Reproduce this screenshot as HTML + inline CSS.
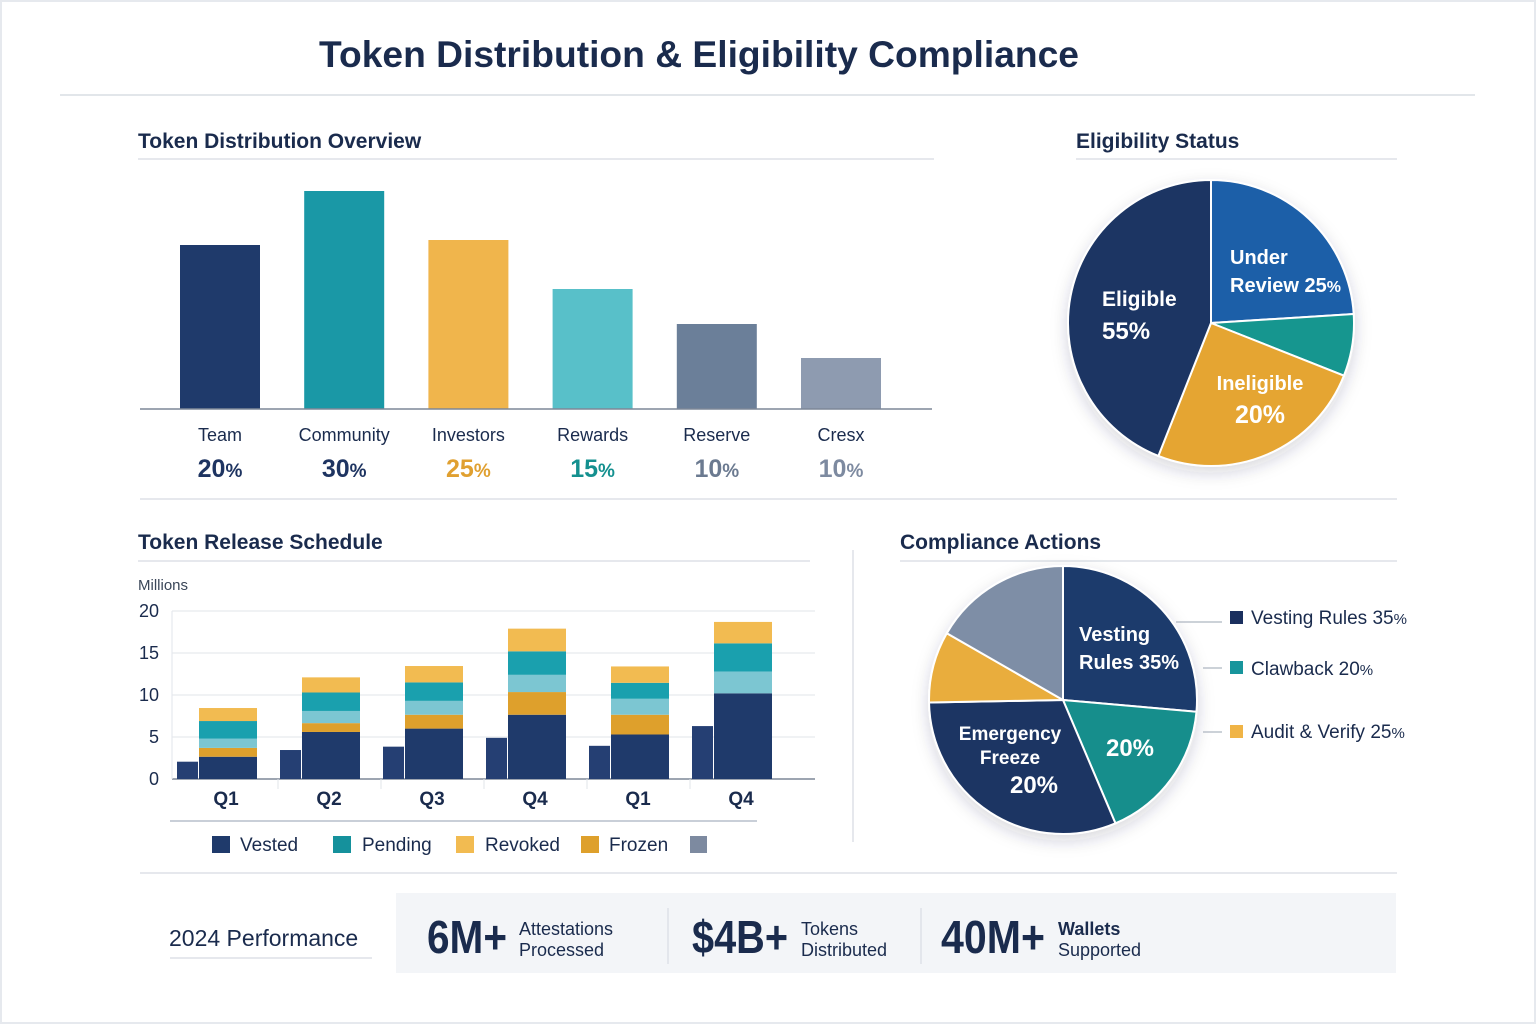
<!DOCTYPE html>
<html><head><meta charset="utf-8"><style>
html,body{margin:0;padding:0;background:#fff}
svg{display:block;font-family:"Liberation Sans",sans-serif}
</style></head><body>
<svg id="root" width="1536" height="1024" viewBox="0 0 1536 1024" xmlns="http://www.w3.org/2000/svg">
<defs>
<filter id="sh" x="-20%" y="-20%" width="140%" height="140%"><feDropShadow dx="0" dy="6" stdDeviation="8" flood-color="#1a2b4d" flood-opacity="0.18"/></filter>
</defs>
<rect x="0" y="0" width="1536" height="1024" fill="#fff" stroke="#e6e9ee" stroke-width="4"/>
<text x="699" y="67" text-anchor="middle" font-size="37" font-weight="bold" fill="#1a2b4d" textLength="760" lengthAdjust="spacingAndGlyphs">Token Distribution &amp; Eligibility Compliance</text>
<line x1="60" y1="95" x2="1475" y2="95" stroke="#d8dde4" stroke-width="1.5"/>

<text x="138" y="148" font-size="21" font-weight="bold" fill="#1a2b4d">Token Distribution Overview</text>
<line x1="138" y1="159" x2="934" y2="159" stroke="#dde1e7" stroke-width="1.5"/>
<g id="barChart"></g>
<line x1="140" y1="409" x2="932" y2="409" stroke="#7d8797" stroke-width="1.5"/>

<text x="1076" y="148" font-size="21" font-weight="bold" fill="#1a2b4d">Eligibility Status</text>
<line x1="1076" y1="159" x2="1397" y2="159" stroke="#dde1e7" stroke-width="1.5"/>
<g id="pie1" filter="url(#sh)"></g>
<g fill="#fff" font-weight="bold">
<text x="1102" y="306" font-size="21">Eligible</text>
<text x="1102" y="339" font-size="24">55%</text>
<text x="1230" y="264" font-size="20">Under</text>
<text x="1230" y="292" font-size="20">Review 25<tspan font-size="16">%</tspan></text>
<text x="1260" y="390" font-size="20" text-anchor="middle">Ineligible</text>
<text x="1260" y="423" font-size="25" text-anchor="middle">20%</text>
</g>

<line x1="140" y1="499" x2="1397" y2="499" stroke="#dde1e7" stroke-width="1.5"/>

<text x="138" y="549" font-size="21" font-weight="bold" fill="#1a2b4d">Token Release Schedule</text>
<line x1="138" y1="561" x2="810" y2="561" stroke="#dde1e7" stroke-width="1.5"/>
<text x="138" y="590" font-size="15" fill="#3a4658">Millions</text>
<g id="stackChart"></g>
<line x1="170" y1="821" x2="757" y2="821" stroke="#c9cfd8" stroke-width="2"/>
<g font-size="19" fill="#1a2b4d">
<rect x="212" y="836" width="18" height="17" fill="#1f3a6b"/><text x="240" y="851">Vested</text>
<rect x="333" y="836" width="18" height="17" fill="#15919c"/><text x="362" y="851">Pending</text>
<rect x="456" y="836" width="18" height="17" fill="#f2bb51"/><text x="485" y="851">Revoked</text>
<rect x="581" y="836" width="18" height="17" fill="#dea02c"/><text x="609" y="851">Frozen</text>
<rect x="690" y="836" width="17" height="17" fill="#7d8aa0"/>
</g>
<line x1="853" y1="550" x2="853" y2="842" stroke="#dde1e7" stroke-width="1.5"/>

<text x="900" y="549" font-size="21" font-weight="bold" fill="#1a2b4d">Compliance Actions</text>
<line x1="900" y1="561" x2="1397" y2="561" stroke="#dde1e7" stroke-width="1.5"/>
<g id="pie2" filter="url(#sh)"></g>
<g fill="#fff" font-weight="bold">
<text x="1079" y="641" font-size="20">Vesting</text>
<text x="1079" y="669" font-size="20">Rules 35%</text>
<text x="1130" y="756" font-size="24" text-anchor="middle">20%</text>
<text x="1010" y="740" font-size="19" text-anchor="middle">Emergency</text>
<text x="1010" y="764" font-size="19" text-anchor="middle">Freeze</text>
<text x="1034" y="793" font-size="24" text-anchor="middle">20%</text>
</g>
<g font-size="19" fill="#1a2b4d" stroke-width="1">
<line x1="1176" y1="622" x2="1222" y2="622" stroke="#9aa4b2"/>
<line x1="1203" y1="668" x2="1222" y2="668" stroke="#9aa4b2"/>
<line x1="1203" y1="732" x2="1222" y2="732" stroke="#9aa4b2"/>
<rect x="1230" y="611" width="13" height="13" fill="#1a2f5e"/><text x="1251" y="624">Vesting Rules 35<tspan font-size="15">%</tspan></text>
<rect x="1230" y="661" width="13" height="13" fill="#17959c"/><text x="1251" y="675">Clawback 20<tspan font-size="15">%</tspan></text>
<rect x="1230" y="725" width="13" height="13" fill="#f0b446"/><text x="1251" y="738">Audit &amp; Verify 25<tspan font-size="15">%</tspan></text>
</g>

<line x1="140" y1="873" x2="1397" y2="873" stroke="#dde1e7" stroke-width="1.5"/>
<text x="169" y="946" font-size="23" fill="#1a2b4d">2024 Performance</text>
<line x1="170" y1="958" x2="372" y2="958" stroke="#dde1e7" stroke-width="1.5"/>
<rect x="396" y="893" width="1000" height="80" fill="#f3f5f8"/>
<line x1="668" y1="908" x2="668" y2="964" stroke="#d3d8df"/>
<line x1="921" y1="908" x2="921" y2="964" stroke="#d3d8df"/>
<g fill="#1a2b4d">
<text x="427" y="953" font-size="46" font-weight="bold" textLength="80" lengthAdjust="spacingAndGlyphs">6M+</text>
<text x="519" y="935" font-size="18">Attestations</text>
<text x="519" y="956" font-size="18">Processed</text>
<text x="692" y="953" font-size="46" font-weight="bold" textLength="96" lengthAdjust="spacingAndGlyphs">$4B+</text>
<text x="801" y="935" font-size="18">Tokens</text>
<text x="801" y="956" font-size="18">Distributed</text>
<text x="941" y="953" font-size="46" font-weight="bold" textLength="104" lengthAdjust="spacingAndGlyphs">40M+</text>
<text x="1058" y="935" font-size="18" font-weight="bold">Wallets</text>
<text x="1058" y="956" font-size="18">Supported</text>
</g>
</svg>
<script>
// ---- Distribution bar chart data ----
const distCategories = ["Team","Community","Investors","Rewards","Reserve","Cresx"];
const distBarValues = [16.4, 21.8, 16.9, 12.0, 8.5, 5.1];
const distPctLabels = ["20","30","25","15","10","10"];
// ---- Eligibility pie data ----
const eligCategories = ["Under Review","Clawback","Ineligible","Eligible"];
const eligValues = [24, 7, 25, 44];
// ---- Compliance pie data ----
const compCategories = ["Vesting Rules","Clawback","Emergency Freeze","Audit & Verify","Other"];
const compValues = [26.4, 17.2, 31.1, 8.6, 16.7];
// ---- Release schedule data ----
const relCategories = ["Q1","Q2","Q3","Q4","Q1","Q4"];
const relPrior = [2.06, 3.45, 3.85, 4.9, 3.95, 6.3];
const relVested = [2.65, 5.6, 6.0, 7.65, 5.3, 10.2];
const relFrozen = [1.05, 1.05, 1.65, 2.7, 2.35, 0];
const relPendingLight = [1.1, 1.45, 1.65, 2.05, 1.9, 2.6];
const relPending = [2.1, 2.2, 2.2, 2.8, 1.9, 3.35];
const relRevoked = [1.55, 1.8, 1.95, 2.7, 1.95, 2.55];
const relTicks = [0, 5, 10, 15, 20];

const NS = "http://www.w3.org/2000/svg";
function mk(tag, attrs, parent){const e=document.createElementNS(NS,tag);for(const k in attrs)e.setAttribute(k,attrs[k]);parent.appendChild(e);return e;}

// Distribution bars
(function(){
  const g=document.getElementById('barChart');
  const base=409, scale=10, firstCenter=220, band=124.2, bw=80;
  const colors=["#1f3a6b","#1a98a6","#f0b54c","#58c0c9","#6b7f99","#8e9bb0"];
  const pctColors=["#1e3461","#1e3461","#e0a030","#14908f","#6b7a90","#7d8aa0"];
  distCategories.forEach((c,i)=>{
    const cx=firstCenter+band*i;
    const h=distBarValues[i]*scale;
    const r=mk('rect',{x:cx-bw/2,y:base-h,width:bw,height:h,fill:colors[i]},g);
    
    
    const t=mk('text',{x:cx,y:441,'text-anchor':'middle','font-size':18,fill:'#1a2b4d'},g);
    t.textContent=c;
    
    
    const p=mk('text',{x:cx,y:477,'text-anchor':'middle','font-size':25,'font-weight':'bold',fill:pctColors[i]},g);
    p.textContent=distPctLabels[i];
    const ts=mk('tspan',{'font-size':19},p); ts.textContent='%';
    
    
  });
})();

function pie(id, values, names, colors, cx, cy, r){
  const g=document.getElementById(id);
  const tot=values.reduce((a,b)=>a+b,0);
  let a=0;
  values.forEach((v,i)=>{
    const a1=a, a2=a+v/tot*2*Math.PI; a=a2;
    const p1=[cx+r*Math.sin(a1),cy-r*Math.cos(a1)], p2=[cx+r*Math.sin(a2),cy-r*Math.cos(a2)];
    const large=(a2-a1)>Math.PI?1:0;
    const path=mk('path',{d:`M${cx},${cy} L${p1[0]},${p1[1]} A${r},${r} 0 ${large} 1 ${p2[0]},${p2[1]} Z`,fill:colors[i],stroke:'#fff','stroke-width':2},g);
    
    
  });
}
pie('pie1', eligValues, eligCategories, ["#1b5ea8","#17968f","#e5a532","#1c3563"], 1211, 323, 143);
pie('pie2', compValues, compCategories, ["#1d3a6c","#128e8c","#1c3563","#e9ad3e","#7e8ea6"], 1063, 700, 134);

// Stacked chart
(function(){
  const g=document.getElementById('stackChart');
  const y0=779, py=8.4, xL=172, xR=815, band=103, startX=175;
  const yv=v=>y0-v*py;
  relTicks.forEach(t=>{
    const l=mk('line',{x1:xL,x2:xR,y1:yv(t),y2:yv(t),stroke:t===0?'#7d8797':'#e6e9ee','stroke-width':t===0?1.5:1.2},g);
    
    
    const tx=mk('text',{x:159,y:yv(t)+6,'text-anchor':'end','font-size':18,fill:'#1a2b4d'},g);
    tx.textContent=t;
    
    
  });
  const axisV=mk('line',{x1:xL,x2:xL,y1:yv(20),y2:y0,stroke:'#e6e9ee','stroke-width':1.2},g);
  
  
  const series=[[relVested,'#1f3a6b','vested'],[relFrozen,'#dea02c','frozen'],[relPendingLight,'#7cc6d2','pending-light'],[relPending,'#1aa0ae','pending'],[relRevoked,'#f2bb51','revoked']];
  relCategories.forEach((c,i)=>{
    const left=startX+band*i;
    const sm=mk('rect',{x:left+2,y:yv(relPrior[i]),width:21,height:relPrior[i]*py,fill:'#253f73'},g);
    
    
    let acc=0;
    series.forEach(([arr,col,nm])=>{
      const v=arr[i]; if(v<=0)return;
      const r=mk('rect',{x:left+24,y:yv(acc+v),width:58,height:v*py,fill:col},g);
      
      
      acc+=v;
    });
    if(i>0){const tk=mk('line',{x1:left,x2:left,y1:y0,y2:y0+10,stroke:'#e0e4ea'},g);
      
      }
    const lb=mk('text',{x:left+51,y:805,'text-anchor':'middle','font-size':19,'font-weight':'bold',fill:'#1a2b4d'},g);
    lb.textContent=c;
    
    
  });
})();
</script>
</body></html>
